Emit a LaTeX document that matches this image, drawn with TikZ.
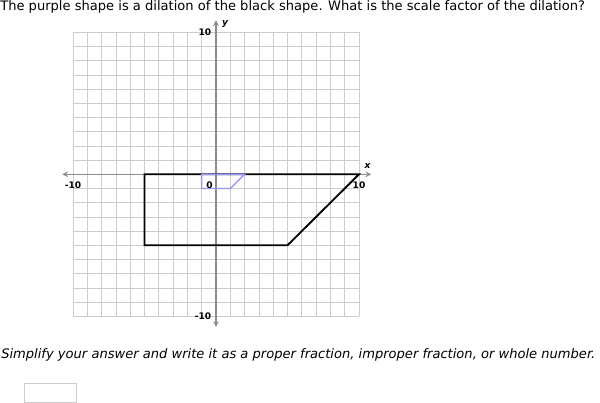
\documentclass[tikz,border=0pt]{standalone}
\usepackage{fontspec}
\setmainfont{DejaVu Sans}
\usepackage{tikz}
\definecolor{gridgray}{RGB}{204,204,204}
\definecolor{axisgray}{RGB}{140,140,140}
\definecolor{dilpurple}{RGB}{150,150,255}

\begin{document}
\begin{tikzpicture}[x=0.75pt,y=-0.75pt]
				\useasboundingbox (0,0) rectangle (600,403);
				
				\node [anchor=west, inner sep=0pt, font=\fontsize{9.8}{11}\selectfont] (question) at (0,7) {The purple shape is a dilation of the black shape. What is the scale factor of the dilation?};
				
				\begin{scope}[shift={(216,174.3)}, x=10.725pt, y=10.65pt]
				\foreach \k in {-10,...,10} {
					\draw [gridgray, line width=0.5pt] (\k,-10) -- (\k,10);
					\draw [gridgray, line width=0.5pt] (-10,\k) -- (10,\k);
				}
				
				\draw [axisgray, line width=0.9pt, stealth-stealth] (-10.75,0) -- (10.85,0);
				\draw [axisgray, line width=0.9pt, stealth-stealth] (0,10.85) -- (0,-10.75);
				
				\draw [line width=1.4pt] (-5,0) -- (10,0) -- (5,-5) -- (-5,-5) -- cycle;
				\draw [dilpurple, line width=1.1pt] (-1,0) -- (2,0) -- (1,-1) -- (-1,-1) -- cycle;
				
				\begin{scope}[font=\fontsize{6.8}{8}\selectfont\bfseries]
				\node [below] (xmin) at (-10,-0.2) {-10};
				\node [below] (xmax) at (10,-0.2) {10};
				\node [left] (ymax) at (0,10) {10};
				\node [left] (ymin) at (0,-10) {-10};
				\node [below left] (origin) at (0.1,-0.2) {0};
				\node [above] (xlab) at (10.6,0.1) {\itshape x};
				\node [right] (ylab) at (0.1,10.6) {\itshape y};
				\end{scope}
				\end{scope}
				
				\node [anchor=west, inner sep=0pt, font=\fontsize{9.8}{11}\selectfont\itshape] (hint) at (1,355) {Simplify your answer and write it as a proper fraction, improper fraction, or whole number.};
				
				\node [draw=gridgray, line width=0.8pt, minimum width=39pt, minimum height=14pt, inner sep=0pt, anchor=north west] (answer) at (24,383) {};
				\end{tikzpicture}
\end{document}
